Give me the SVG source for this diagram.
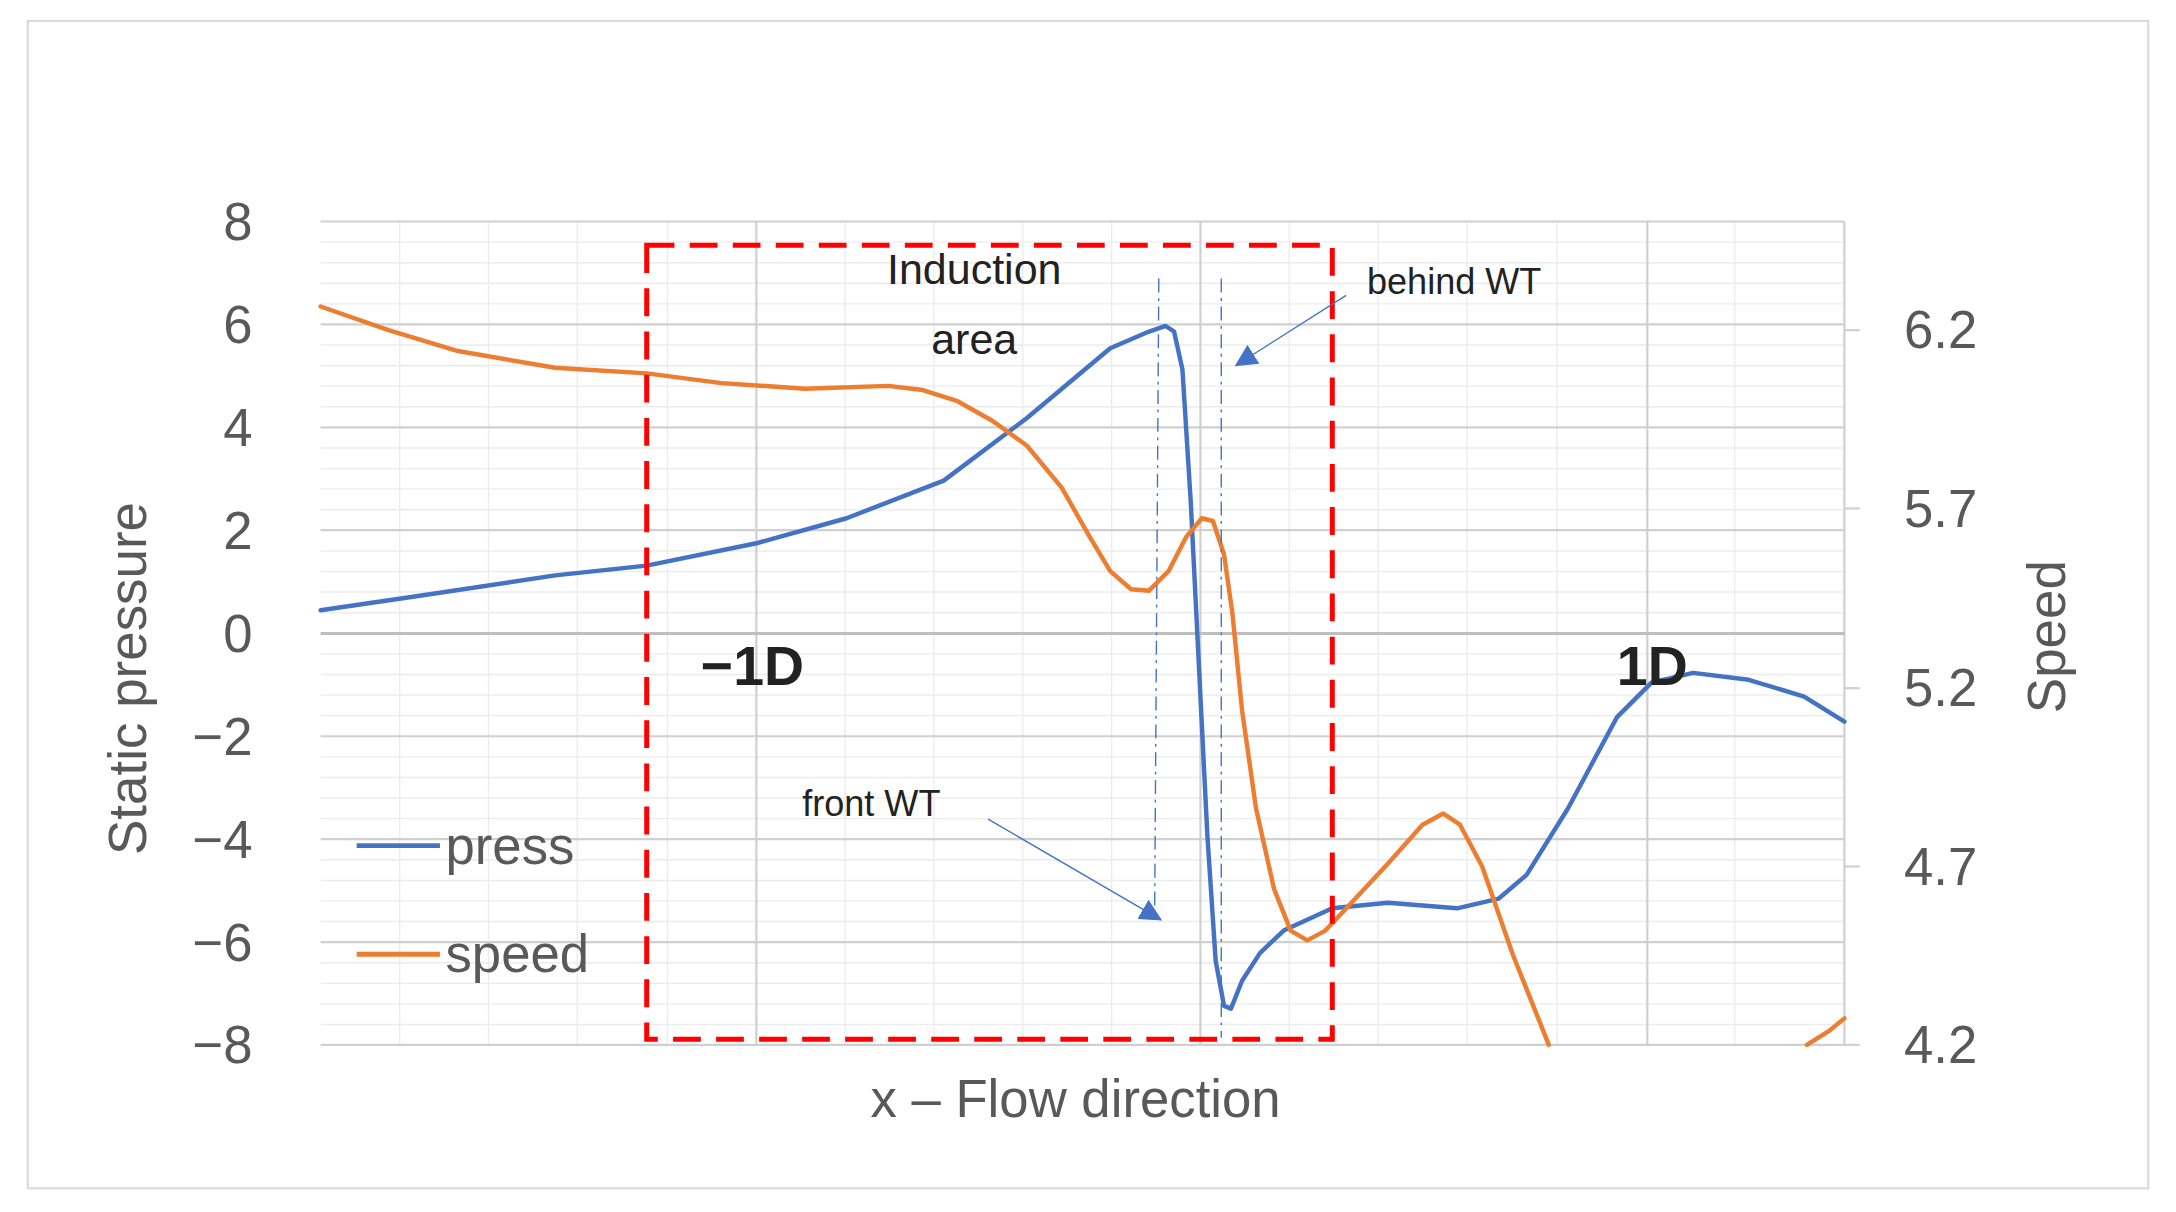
<svg xmlns="http://www.w3.org/2000/svg" width="2176" height="1212" viewBox="0 0 2176 1212">
<style>
.minor{stroke:#ececec;stroke-width:1}
.major{stroke:#d0d0d0;stroke-width:1.6}
.tick{font-family:"Liberation Sans",Arial,sans-serif;font-size:38px;fill:#595959}
.ttl{font-family:"Liberation Sans",Arial,sans-serif;font-size:38px;fill:#595959}
.ann{font-family:"Liberation Sans",Arial,sans-serif;fill:#222}
.curve{fill:none;stroke-width:3.2;stroke-linejoin:round;stroke-linecap:round}
</style>
<defs>
<marker id="ah" viewBox="0 0 10 10" refX="9" refY="5" markerWidth="8" markerHeight="8" orient="auto" markerUnits="userSpaceOnUse"><path d="M0,0L10,5L0,10z" fill="#4472C4"/></marker>
<marker id="ah2" viewBox="0 0 10 10" refX="9" refY="5" markerWidth="16" markerHeight="16" orient="auto" markerUnits="userSpaceOnUse"><path d="M0,0L10,5L0,10z" fill="#4472C4"/></marker>
</defs>
<rect width="2176" height="1212" fill="#fff"/>
<g transform="scale(1.3878 1.3931)">
<rect x="20" y="15" width="1528" height="838" fill="#fff" stroke="#d9d9d9" stroke-width="1.5"/>
<g id="grid">
<g class="minor">
<line x1="231" y1="173.8" x2="1329" y2="173.8"/><line x1="231" y1="188.6" x2="1329" y2="188.6"/><line x1="231" y1="203.3" x2="1329" y2="203.3"/><line x1="231" y1="218.1" x2="1329" y2="218.1"/>
<line x1="231" y1="247.7" x2="1329" y2="247.7"/><line x1="231" y1="262.5" x2="1329" y2="262.5"/><line x1="231" y1="277.2" x2="1329" y2="277.2"/><line x1="231" y1="292" x2="1329" y2="292"/>
<line x1="231" y1="321.6" x2="1329" y2="321.6"/><line x1="231" y1="336.4" x2="1329" y2="336.4"/><line x1="231" y1="351.1" x2="1329" y2="351.1"/><line x1="231" y1="365.9" x2="1329" y2="365.9"/>
<line x1="231" y1="395.5" x2="1329" y2="395.5"/><line x1="231" y1="410.3" x2="1329" y2="410.3"/><line x1="231" y1="425" x2="1329" y2="425"/><line x1="231" y1="439.8" x2="1329" y2="439.8"/>
<line x1="231" y1="469.4" x2="1329" y2="469.4"/><line x1="231" y1="484.2" x2="1329" y2="484.2"/><line x1="231" y1="498.9" x2="1329" y2="498.9"/><line x1="231" y1="513.7" x2="1329" y2="513.7"/>
<line x1="231" y1="543.3" x2="1329" y2="543.3"/><line x1="231" y1="558.1" x2="1329" y2="558.1"/><line x1="231" y1="572.8" x2="1329" y2="572.8"/><line x1="231" y1="587.6" x2="1329" y2="587.6"/>
<line x1="231" y1="617.2" x2="1329" y2="617.2"/><line x1="231" y1="632" x2="1329" y2="632"/><line x1="231" y1="646.7" x2="1329" y2="646.7"/><line x1="231" y1="661.5" x2="1329" y2="661.5"/>
<line x1="231" y1="691.1" x2="1329" y2="691.1"/><line x1="231" y1="705.9" x2="1329" y2="705.9"/><line x1="231" y1="720.6" x2="1329" y2="720.6"/><line x1="231" y1="735.4" x2="1329" y2="735.4"/>
<line x1="288" y1="159" x2="288" y2="750"/><line x1="352" y1="159" x2="352" y2="750"/><line x1="416" y1="159" x2="416" y2="750"/><line x1="481" y1="159" x2="481" y2="750"/>
<line x1="609" y1="159" x2="609" y2="750"/><line x1="673" y1="159" x2="673" y2="750"/><line x1="737" y1="159" x2="737" y2="750"/><line x1="801" y1="159" x2="801" y2="750"/>
<line x1="929" y1="159" x2="929" y2="750"/><line x1="993" y1="159" x2="993" y2="750"/><line x1="1057" y1="159" x2="1057" y2="750"/><line x1="1122" y1="159" x2="1122" y2="750"/>
<line x1="1250" y1="159" x2="1250" y2="750"/>
</g>
<g class="major">
<line x1="231" y1="159" x2="1329" y2="159"/><line x1="231" y1="232.9" x2="1329" y2="232.9"/><line x1="231" y1="306.8" x2="1329" y2="306.8"/><line x1="231" y1="380.6" x2="1329" y2="380.6"/>
<line x1="231" y1="528.5" x2="1329" y2="528.5"/><line x1="231" y1="602.4" x2="1329" y2="602.4"/><line x1="231" y1="676.2" x2="1329" y2="676.2"/><line x1="231" y1="750" x2="1329" y2="750"/>
<line x1="545" y1="159" x2="545" y2="750"/><line x1="865" y1="159" x2="865" y2="750"/><line x1="1187" y1="159" x2="1187" y2="750"/><line x1="1329" y1="159" x2="1329" y2="750"/>
<line x1="1329" y1="237" x2="1340" y2="237"/><line x1="1329" y1="365" x2="1340" y2="365"/><line x1="1329" y1="494" x2="1340" y2="494"/><line x1="1329" y1="622" x2="1340" y2="622"/><line x1="1329" y1="750" x2="1340" y2="750"/>
</g>
<line x1="231" y1="454.7" x2="1329" y2="454.7" stroke="#bfbfbf" stroke-width="2.2"/>
</g>
<g id="left-axis" class="tick" text-anchor="end">
<text x="182" y="172">8</text><text x="182" y="246">6</text><text x="182" y="320">4</text><text x="182" y="394">2</text>
<text x="182" y="468">0</text><text x="182" y="542">−2</text><text x="182" y="616">−4</text><text x="182" y="690">−6</text><text x="182" y="763">−8</text>
</g>
<g id="right-axis" class="tick">
<text x="1372" y="250">6.2</text><text x="1372" y="378">5.7</text><text x="1372" y="507">5.2</text><text x="1372" y="635">4.7</text><text x="1372" y="763">4.2</text>
</g>
<text class="ttl" transform="translate(105 487) rotate(-90)" text-anchor="middle">Static pressure</text>
<text class="ttl" transform="translate(1488 457) rotate(-90)" text-anchor="middle">Speed</text>
<text class="ttl" x="775" y="802" text-anchor="middle">x – Flow direction</text>
<g id="series">
<polyline class="curve" stroke="#4472C4" points="231,438 300,428 400,413 466,406 545,390 610,372 680,345 740,300 800,250 828,238 840,234 846,238 852,265 858,360 864,480 870,600 876,690 882,722 887,724 895,704 908,684 925,668 960,652 1000,648 1050,652 1080,645 1100,628 1130,580 1165,515 1190,490 1220,483 1260,488 1300,500 1329,518"/>
<polyline class="curve" stroke="#ED7D31" points="231,220 280,237 330,252 400,264 466,268 520,275 580,279 640,277 665,280 690,288 715,302 740,320 765,350 785,385 800,410 815,423 828,424 842,410 855,385 866,372 874,374 882,398 888,440 895,510 905,580 918,638 930,668 942,675 955,668 972,650 1000,620 1025,592 1040,584 1052,592 1068,622 1090,685 1116,750"/>
<polyline class="curve" stroke="#ED7D31" points="1302,750 1318,740 1329,731"/>
</g>
<g id="annotations">
<rect x="466" y="176" width="494" height="570" fill="none" stroke="#FF0000" stroke-width="3.6" stroke-dasharray="20 11"/>
<line x1="835" y1="200" x2="832" y2="655" stroke="#4472C4" stroke-width="1" stroke-dasharray="10 4 2 4"/>
<line x1="880" y1="200" x2="880" y2="745" stroke="#4472C4" stroke-width="1" stroke-dasharray="10 4 2 4"/>
<line x1="970" y1="212" x2="891" y2="262" stroke="#4472C4" stroke-width="1" marker-end="url(#ah2)"/>
<line x1="712" y1="588" x2="836" y2="660" stroke="#4472C4" stroke-width="1" marker-end="url(#ah2)"/>
<text class="ann" x="702" y="204" font-size="31" text-anchor="middle">Induction</text>
<text class="ann" x="702" y="254" font-size="31" text-anchor="middle">area</text>
<text class="ann" x="985" y="211" font-size="26">behind WT</text>
<text class="ann" x="578" y="586" font-size="26">front WT</text>
<text class="ann" x="505" y="492" font-size="40" font-weight="bold" fill="#333">−1D</text>
<text class="ann" x="1165" y="492" font-size="40" font-weight="bold" fill="#333">1D</text>
</g>
<g id="legend">
<line x1="257" y1="607" x2="317" y2="607" stroke="#4472C4" stroke-width="3.5"/>
<text class="ttl" x="321" y="620">press</text>
<line x1="257" y1="685" x2="317" y2="685" stroke="#ED7D31" stroke-width="3.5"/>
<text class="ttl" x="321" y="698">speed</text>
</g>
</g>
</svg>
